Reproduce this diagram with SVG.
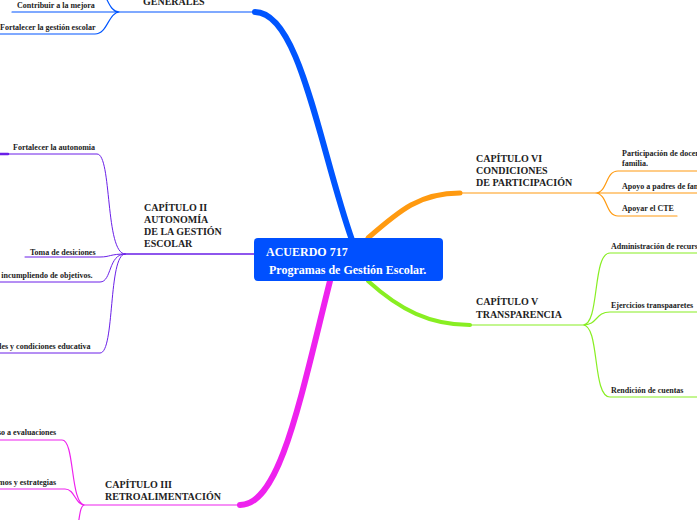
<svg xmlns="http://www.w3.org/2000/svg" width="697" height="520" viewBox="0 0 697 520">
<style>
text{font-family:"Liberation Serif",serif;font-weight:bold;fill:#222}
.s{font-size:8px}.m{font-size:10px}
path{fill:none;stroke-linecap:round}
.b{stroke:#0055ff}.p{stroke:#6a1fe8}.k{stroke:#ee22ee}.o{stroke:#ff9a10}.g{stroke:#88ee22}
</style>
<rect width="697" height="520" fill="#fff"/>
<g id="connectors">
<path class="b" stroke-width="6" d="M352 240 C320 150 300 12 255 12"/>
<path class="b" stroke-width="1.2" d="M255 12 L120 12 M120 12 C108 12 108 -5 100 -10 M120 12 L12 12 M120 12 C108 12 108 34 95 34 L0 34"/>
<path class="p" stroke-width="1.5" d="M254 254 L125 254"/>
<path class="p" stroke-width="1" d="M125 254 C105 254 112 154 97 154 L0 154 M125 254 C110 254 110 257 100 257 L25 257 M125 254 C108 254 112 282 100 282 L0 282 M125 254 C108 254 115 353 100 353 L0 353"/>
<path class="p" stroke-width="2.5" d="M0 154 L8 154"/>
<path class="k" stroke-width="6" d="M330 281 C300 400 280 505 240 505"/>
<path class="k" stroke-width="1.2" d="M240 505 L85 505 M85 505 C70 505 75 440 62 440 L0 440 M85 505 C75 505 75 489 65 489 L0 489 M85 505 C80 505 80 515 78 525"/>
<path class="o" stroke-width="5" d="M368 238 C400 210 420 193 460 193"/>
<path class="o" stroke-width="1.2" d="M460 193 L595 193 M595 193 C608 193 605 171 618 171 L697 171 M595 193 L697 193 M595 193 C608 193 605 216 618 216 L677 216"/>
<path class="g" stroke-width="4" d="M368 281 C400 310 430 325 470 325"/>
<path class="g" stroke-width="1.2" d="M470 325 L583 325 M583 325 C600 325 592 253 610 253 L697 253 M583 325 C598 325 595 312 610 312 L697 312 M583 325 C600 325 592 397 610 397 L697 397"/>
</g>
<g id="central"><rect x="254" y="238" width="189" height="43" rx="4" fill="#0050ff"/>
<text x="266" y="256" font-size="12" style="fill:#fff">ACUERDO 717</text>
<text x="269" y="274" font-size="12" style="fill:#fff">Programas de Gestión Escolar.</text></g>
<g id="cap1"><text class="m" x="143" y="5">GENERALES</text>
<text class="s" x="17" y="8">Contribuir a la mejora</text>
<text class="s" x="0" y="30">Fortalecer la gestión escolar</text></g>
<g id="cap2"><text class="m" x="144" y="211">CAPÍTULO II</text><text class="m" x="144" y="223">AUTONOMÍA</text><text class="m" x="144" y="235">DE LA GESTIÓN</text><text class="m" x="144" y="247">ESCOLAR</text>
<text class="s" x="13" y="150">Fortalecer la autonomia</text>
<text class="s" x="30" y="255">Toma de desiciones</text>
<text class="s" x="-3" y="278">l incumpliendo de objetivos.</text>
<text class="s" x="-3" y="349">des y condiciones educativa</text></g>
<g id="cap3"><text class="m" x="105" y="488">CAPÍTULO III</text><text class="m" x="105" y="500">RETROALIMENTACIÓN</text>
<text class="s" x="-2" y="435">so a evaluaciones</text>
<text class="s" x="-2" y="485">mos y estrategias</text></g>
<g id="cap6"><text class="m" x="476" y="162">CAPÍTULO VI</text><text class="m" x="476" y="174">CONDICIONES</text><text class="m" x="476" y="186">DE PARTICIPACIÓN</text>
<text class="s" x="622" y="156">Participación de docentes</text><text class="s" x="622" y="166">familia.</text>
<text class="s" x="622" y="189">Apoyo a padres de familia</text>
<text class="s" x="622" y="211">Apoyar el CTE</text></g>
<g id="cap5"><text class="m" x="476" y="305">CAPÍTULO V</text><text class="m" x="476" y="318">TRANSPARENCIA</text>
<text class="s" x="611" y="249">Administración de recursos</text>
<text class="s" x="611" y="308">Ejercicios transpaaretes</text>
<text class="s" x="611" y="393">Rendición de cuentas</text></g>
</svg>
